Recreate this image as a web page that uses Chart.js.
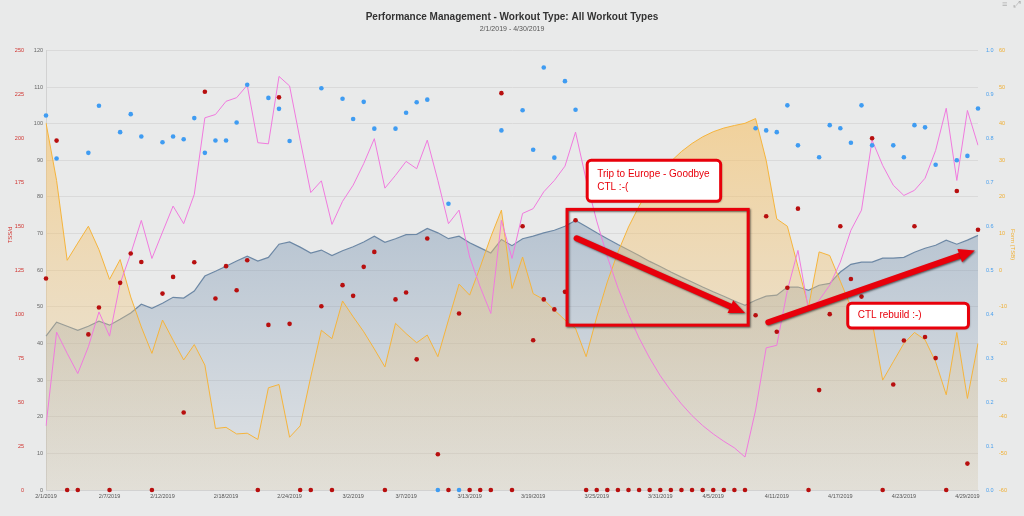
<!DOCTYPE html>
<html>
<head>
<meta charset="utf-8">
<script src="https://cdn.jsdelivr.net/npm/chart.js@4.4.1/dist/chart.umd.min.js"></script>
<style>
  html, body { margin: 0; padding: 0; background: #e9eaea; }
</style>
</head>
<body>
<canvas id="pmc" width="1024" height="516"></canvas>
<script>
// DATA - 2/1/2019 .. 4/30/2019, one value per day
const days = [];
for (let d = new Date(2019, 1, 1); d <= new Date(2019, 3, 30); d.setDate(d.getDate() + 1)) {
  days.push((d.getMonth() + 1) + '/' + d.getDate() + '/2019');
}
const shownDates = ['2/1/2019', '2/7/2019', '2/12/2019', '2/18/2019', '2/24/2019', '3/2/2019', '3/7/2019',
  '3/13/2019', '3/19/2019', '3/25/2019', '3/31/2019', '4/5/2019', '4/11/2019', '4/17/2019', '4/23/2019', '4/29/2019'];

// fitness (CTL) - grey axis
const ctl = [42.0, 45.8, 44.7, 43.6, 44.7, 46.1, 45.0, 46.6, 48.3, 50.7, 49.6, 51.0, 52.6, 52.4, 54.3, 58.4,
  59.7, 61.1, 62.5, 63.8, 62.5, 63.5, 67.1, 67.7, 66.3, 64.7, 65.5, 64.0, 65.3, 66.4, 67.7, 69.3, 67.6, 68.6,
  69.7, 69.8, 71.4, 70.2, 68.6, 69.3, 67.5, 66.1, 64.7, 68.4, 66.7, 68.6, 69.3, 70.2, 70.9, 72.0, 73.6, 71.9,
  70.2, 68.6, 67.0, 65.5, 64.0, 62.4, 61.0, 59.5, 58.1, 56.8, 55.4, 54.1, 52.9, 51.6, 50.4, 51.8, 52.9, 53.2,
  55.4, 55.4, 54.5, 55.9, 56.4, 59.5, 61.6, 62.2, 62.2, 63.3, 63.3, 63.5, 64.9, 66.0, 66.8, 68.2, 67.1, 68.2, 69.5];

// fatigue (ATL) - grey axis
const atl = [17.5, 43.1, 37.3, 31.8, 39.1, 48.6, 42.0, 56.4, 64.5, 73.6, 63.2, 70.4, 77.5, 72.7, 80.7, 101.6,
  102.5, 106.1, 107.1, 110.5, 94.8, 94.5, 112.9, 110.3, 95.5, 81.2, 84.4, 72.5, 78.8, 83.2, 89.1, 95.9, 82.4,
  85.9, 89.7, 87.7, 95.5, 84.5, 72.7, 76.4, 63.6, 55.4, 48.2, 73.6, 63.2, 75.5, 76.8, 81.4, 84.5, 88.4, 97.7,
  84.7, 73.4, 63.7, 55.2, 47.9, 41.5, 36.0, 31.2, 27.1, 23.5, 20.3, 17.6, 15.3, 13.3, 11.5, 9.0, 21.8, 38.8,
  39.5, 54.5, 65.4, 49.1, 51.8, 55.9, 62.2, 70.9, 76.4, 95.5, 88.6, 83.2, 80.4, 81.8, 85.1, 92.7, 104.2, 84.5,
  103.6, 94.1];

// form (TSB) - orange axis
const tsb = [40.2, 24.5, 2.7, 7.4, 12.0, 5.6, -2.5, 2.9, -7.3, -15.5, -22.7, -13.6, -19.1, -24.5, -20.3, -25.9,
  -43.2, -42.9, -44.7, -44.5, -46.2, -32.1, -31.2, -45.6, -42.5, -29.1, -16.4, -18.7, -8.4, -12.7, -16.8, -21.5,
  -26.4, -14.5, -17.3, -19.8, -17.7, -23.6, -13.6, -3.8, -6.8, 0.9, 9.1, 16.4, -5.0, 3.6, -6.4, -8.0, -10.9,
  -13.6, -15.9, -23.6, -12.8, -3.2, 4.9, 11.8, 17.5, 22.4, 26.4, 29.7, 32.4, 34.6, 36.4, 37.8, 38.8, 39.5, 40.1,
  41.4, 30.0, 14.0, 12.0, 1.0, -10.0, 5.0, 4.0, -3.0, -10.0, -14.0, -14.0, -30.0, -25.0, -20.0, -17.0, -19.0,
  -25.0, -34.0, -17.0, -35.0, -20.0];

// TSS per day - red axis
const tss = [120.3, 198.7, 0, 0, 88.5, 103.8, 0, 117.8, 134.5, 129.7, 0, 111.7, 121.2, 44.1, 129.5, 226.5,
  108.9, 127.3, 113.6, 130.7, 0, 93.9, 223.3, 94.5, 0, 0, 104.5, 0, 116.5, 110.4, 126.9, 135.4, 0, 108.4, 112.3,
  74.3, 143.0, 20.3, 0, 100.4, 0, 0, 0, 225.7, 0, 150.0, 85.2, 108.4, 102.7, 112.7, 153.4, 0, 0, 0, 0, 0, 0, 0,
  0, 0, 0, 0, 0, 0, 0, 0, 0, 99.4, 155.7, 90.0, 115.0, 160.0, 0, 56.8, 100.0, 150.0, 120.0, 110.0, 200.0, 0,
  60.0, 85.0, 150.0, 87.0, 75.0, 0, 170.0, 15.0, 148.0];

// intensity factor - blue axis (null = no workout)
const intensity = [0.852, 0.754, null, null, 0.767, 0.874, null, 0.814, 0.855, 0.804, null, 0.791, 0.804,
  0.798, 0.846, 0.767, 0.795, 0.795, 0.836, 0.922, null, 0.892, 0.867, 0.794, null, null, 0.914, null, 0.890,
  0.844, 0.883, 0.822, null, 0.822, 0.858, 0.882, 0.888, 0, 0.651, 0, null, null, null, 0.818, null, 0.864,
  0.774, 0.961, 0.756, 0.930, 0.865, null, null, null, null, null, null, null, null, null, null, null, null,
  null, null, null, null, 0.823, 0.818, 0.814, 0.875, 0.784, null, 0.757, 0.830, 0.823, 0.790, 0.875, 0.784,
  null, 0.784, 0.757, 0.830, 0.825, 0.740, null, 0.750, 0.760, 0.868];

// notes drawn on top (x = day index, y = grey axis units)
const noteBoxes = [
  { x1: 51.1, x2: 63.7, y1: 90.0, y2: 78.8, lines: ['Trip to Europe - Goodbye', 'CTL :-('] },
  { x1: 75.7, x2: 87.1, y1: 51.0, y2: 44.2, lines: ['CTL rebuild :-)'] }
];
const noteFrame = { x1: 49.2, x2: 66.3, y1: 76.6, y2: 45.0 };
const noteArrows = [
  { x1: 50.1, y1: 68.7, x2: 66.0, y2: 48.3 },
  { x1: 68.2, y1: 45.8, x2: 87.7, y2: 65.4 }
];

const FONT = '"Liberation Sans", Arial, sans-serif';

// vertical gradient helper for area fills
const areaGradient = (top, bottom) => (context) => {
  const { chart } = context;
  const { ctx, chartArea } = chart;
  if (!chartArea) {
    return null;
  }
  const g = ctx.createLinearGradient(0, chartArea.top, 0, chartArea.bottom);
  g.addColorStop(0, top);
  g.addColorStop(1, bottom);
  return g;
};

const fixedWidth = (w) => (scale) => { scale.width = w; };

const backgroundPlugin = {
  id: 'pageBackground',
  beforeDraw(chart) {
    const { ctx, width, height } = chart;
    ctx.save();
    ctx.fillStyle = '#e9eaea';
    ctx.fillRect(0, 0, width, height);
    ctx.restore();
  }
};

// axis titles sit a bit above the middle of their axes
const axisTitles = [
  { scale: 'yTss', value: 145, x: 10, angle: -Math.PI / 2, text: 'TSS/d', color: '#d0312d' },
  { scale: 'yTsb', value: 7, x: 1013, angle: Math.PI / 2, text: 'Form (TSB)', color: '#f0ae30' }
];

const axisTitlePlugin = {
  id: 'axisTitles',
  afterDraw(chart) {
    const { ctx } = chart;
    axisTitles.forEach((t) => {
      const y = chart.scales[t.scale].getPixelForValue(t.value);
      ctx.save();
      ctx.translate(t.x, y);
      ctx.rotate(t.angle);
      ctx.fillStyle = t.color;
      ctx.font = '6px ' + FONT;
      ctx.textAlign = 'center';
      ctx.textBaseline = 'middle';
      ctx.fillText(t.text, 0, 0);
      ctx.restore();
    });
  }
};

const drawArrow = (ctx, x1, y1, x2, y2) => {
  const ang = Math.atan2(y2 - y1, x2 - x1);
  const head = 16;
  const bx = x2 - Math.cos(ang) * head;
  const by = y2 - Math.sin(ang) * head;
  ctx.beginPath();
  ctx.moveTo(x1, y1);
  ctx.lineTo(bx, by);
  ctx.lineWidth = 6;
  ctx.lineCap = 'round';
  ctx.stroke();
  ctx.beginPath();
  ctx.moveTo(x2, y2);
  ctx.lineTo(bx + Math.cos(ang + Math.PI / 2) * 7, by + Math.sin(ang + Math.PI / 2) * 7);
  ctx.lineTo(bx + Math.cos(ang - Math.PI / 2) * 7, by + Math.sin(ang - Math.PI / 2) * 7);
  ctx.closePath();
  ctx.fill();
};

const notesPlugin = {
  id: 'notes',
  afterDraw(chart) {
    const { ctx } = chart;
    const xs = chart.scales.x;
    const ys = chart.scales.yFit;
    const px = (v) => xs.getPixelForValue(v);
    const py = (v) => ys.getPixelForValue(v);
    ctx.save();
    ctx.shadowColor = 'rgba(0,0,0,0.55)';
    ctx.shadowBlur = 2;
    ctx.shadowOffsetX = 1;
    ctx.shadowOffsetY = 1;

    // frame round the CTL drop
    ctx.strokeStyle = '#e8000b';
    ctx.lineWidth = 3;
    ctx.strokeRect(px(noteFrame.x1), py(noteFrame.y1), px(noteFrame.x2) - px(noteFrame.x1), py(noteFrame.y2) - py(noteFrame.y1));

    // arrows
    ctx.fillStyle = '#e8000b';
    noteArrows.forEach((a) => drawArrow(ctx, px(a.x1), py(a.y1), px(a.x2), py(a.y2)));

    // text boxes
    noteBoxes.forEach((b) => {
      const x = px(b.x1);
      const y = py(b.y1);
      const w = px(b.x2) - x;
      const h = py(b.y2) - y;
      ctx.beginPath();
      ctx.roundRect(x, y, w, h, 4);
      ctx.fillStyle = '#ffffff';
      ctx.fill();
      ctx.shadowColor = 'transparent';
      ctx.lineWidth = 3;
      ctx.strokeStyle = '#e8000b';
      ctx.stroke();
      ctx.fillStyle = '#e8000b';
      ctx.font = '10px ' + FONT;
      ctx.textBaseline = 'middle';
      ctx.textAlign = 'left';
      const step = 13;
      const start = y + h / 2 - (b.lines.length - 1) * step / 2;
      b.lines.forEach((t, k) => ctx.fillText(t, x + 10, start + k * step));
      ctx.shadowColor = 'rgba(0,0,0,0.55)';
    });
    ctx.restore();

    // menu / expand icons
    ctx.save();
    ctx.fillStyle = '#b0b0b0';
    ctx.font = '9px ' + FONT;
    ctx.textBaseline = 'middle';
    ctx.fillText('\u2261', 1002, 5);
    ctx.fillText('\u2922', 1014, 5);
    ctx.restore();
  }
};

const tickFont = { family: FONT, size: 5.5 };

new Chart(document.getElementById('pmc'), {
  type: 'line',
  data: {
    labels: days,
    datasets: [
      {
        label: 'TSS',
        data: tss,
        yAxisID: 'yTss',
        showLine: false,
        pointRadius: 2.3,
        pointBorderWidth: 0,
        pointBackgroundColor: '#b80f0f',
        clip: false,
        order: 0
      },
      {
        label: 'IF',
        data: intensity,
        yAxisID: 'yIf',
        showLine: false,
        pointRadius: 2.3,
        pointBorderWidth: 0,
        pointBackgroundColor: '#3f9cf2',
        clip: false,
        order: 0
      },
      {
        label: 'Fatigue (ATL)',
        data: atl,
        yAxisID: 'yFit',
        borderColor: '#f07ade',
        borderWidth: 1,
        pointRadius: 0,
        fill: false,
        order: 1
      },
      {
        label: 'Form (TSB)',
        data: tsb,
        yAxisID: 'yTsb',
        borderColor: '#f5b43c',
        borderWidth: 1,
        pointRadius: 0,
        fill: 'start',
        backgroundColor: areaGradient('rgba(250,186,80,0.62)', 'rgba(235,205,150,0.18)'),
        order: 2
      },
      {
        label: 'Fitness (CTL)',
        data: ctl,
        yAxisID: 'yFit',
        borderColor: '#6d88a5',
        borderWidth: 1.2,
        pointRadius: 0,
        fill: 'origin',
        backgroundColor: areaGradient('rgba(105,138,172,0.62)', 'rgba(120,145,175,0.08)'),
        order: 3
      }
    ]
  },
  options: {
    responsive: false,
    animation: false,
    layout: { padding: 0 },
    plugins: {
      legend: { display: false },
      tooltip: { enabled: false },
      title: {
        display: true,
        text: 'Performance Management - Workout Type: All Workout Types',
        color: '#333333',
        font: { family: FONT, size: 10, weight: 'bold', lineHeight: 1.2 },
        padding: { top: 11, bottom: 0 }
      },
      subtitle: {
        display: true,
        text: '2/1/2019 - 4/30/2019',
        color: '#555555',
        font: { family: FONT, size: 7, lineHeight: 1.2 },
        padding: { top: 2, bottom: 17 }
      }
    },
    scales: {
      x: {
        type: 'category',
        offset: false,
        grid: { display: false, drawTicks: false },
        border: { display: true, color: '#d2d2d2' },
        ticks: {
          autoSkip: false,
          maxRotation: 0,
          padding: 3,
          color: '#555555',
          font: tickFont,
          callback(value) {
            const lbl = this.getLabelForValue(value);
            return shownDates.includes(lbl) ? lbl : null;
          }
        },
        afterFit: (scale) => { scale.height = 26; }
      },
      yTss: {
        position: 'left',
        weight: 2,
        min: 0,
        max: 250,
        grid: { display: false, drawTicks: false },
        border: { display: false },
        ticks: { stepSize: 25, padding: 3, color: '#d0312d', font: tickFont },
        afterFit: fixedWidth(27)
      },
      yFit: {
        position: 'left',
        weight: 1,
        min: 0,
        max: 120,
        grid: { color: '#dadada', lineWidth: 1, drawTicks: false },
        border: { display: true, color: '#d2d2d2' },
        ticks: { stepSize: 10, padding: 3, color: '#666666', font: tickFont },
        afterFit: fixedWidth(19)
      },
      yIf: {
        position: 'right',
        weight: 1,
        min: 0,
        max: 1,
        grid: { display: false, drawTicks: false },
        border: { display: false },
        ticks: {
          stepSize: 0.1,
          padding: 8,
          color: '#4aa0ee',
          font: tickFont,
          callback: (v) => v.toFixed(1)
        },
        afterFit: fixedWidth(20)
      },
      yTsb: {
        position: 'right',
        weight: 2,
        min: -60,
        max: 60,
        grid: { display: false, drawTicks: false },
        border: { display: false },
        ticks: { stepSize: 10, padding: 1, color: '#f0ae30', font: tickFont },
        afterFit: fixedWidth(26)
      }
    }
  },
  plugins: [backgroundPlugin, axisTitlePlugin, notesPlugin]
});
</script>
</body>
</html>
